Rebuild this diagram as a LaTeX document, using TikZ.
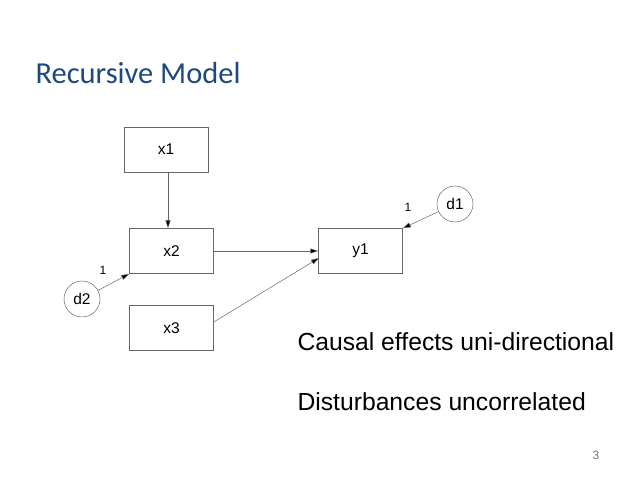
\documentclass[tikz,border=0pt]{standalone}
\usepackage{fontspec}
\setmainfont{Liberation Sans}
\newfontfamily\titlefont{Carlito}
\usetikzlibrary{arrows.meta}
\definecolor{titleblue}{RGB}{31,73,125}
\begin{document}
\begin{tikzpicture}[x=1pt,y=-1pt,
  box/.style={draw=black!60,line width=0.5pt,minimum width=84pt,minimum height=45pt,font=\fontsize{15.5}{18}\selectfont},
  dist/.style={draw=black!60,line width=0.5pt,circle,minimum size=36pt,inner sep=0pt,font=\fontsize{15.5}{18}\selectfont},
  arr/.style={draw=black!60,line width=0.5pt,-{Triangle[length=8pt,width=5pt,fill=black]}},
  lab/.style={font=\fontsize{12}{14}\selectfont}]
\useasboundingbox (0,0) rectangle (638,478);
\node[anchor=west,text=titleblue,font=\titlefont\fontsize{30.5}{34}\selectfont] (t) at (32,73) {Recursive Model};
\node[box] (x1) at (166,149.5) {x1};
\node[box] (x2) at (171.5,251) {x2};
\node[box] (x3) at (171.5,328) {x3};
\node[box] (y1) at (360.5,251) {y1};
\node[dist] (d1) at (455,204) {d1};
\node[dist] (d2) at (82,299) {d2};
\draw[arr] (x1.south -| 168,0) -- (x2.north -| 168,0);
\draw[arr] (x2.east) -- (y1.west);
\draw[arr] (x3.east |- 0,322) -- (319,258) coordinate (y1in);
\draw[arr] (d1) -- (y1.north east);
\draw[arr] (d2) -- (x2.south west);
\node[lab] (l1) at (408,207) {1};
\node[lab] (l2) at (103,270) {1};
\node[anchor=west,font=\fontsize{24.7}{28}\selectfont] (c1) at (294,342) {Causal effects uni-directional};
\node[anchor=west,font=\fontsize{24.7}{28}\selectfont] (c2) at (294,402) {Disturbances uncorrelated};
\node[text=black!55,font=\fontsize{12}{14}\selectfont] (pg) at (596,455) {3};
\end{tikzpicture}
\end{document}
